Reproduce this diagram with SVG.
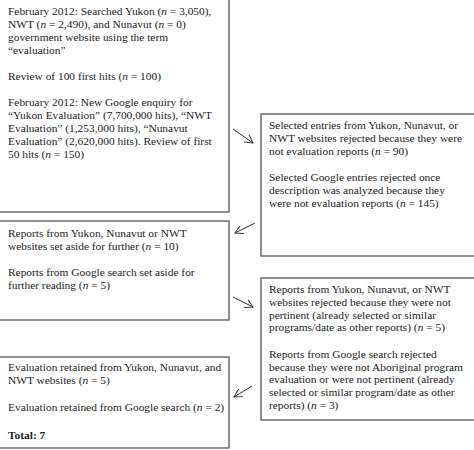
<svg xmlns="http://www.w3.org/2000/svg" width="474" height="450" viewBox="0 0 474 450">
<defs>
<style>
.box{fill:#fff;stroke:#555;stroke-width:1.3}
text{font-family:"Liberation Serif","Times New Roman",serif;font-size:11.4px;fill:#222}
.b{font-weight:bold}
.con line{stroke:#333;stroke-width:1}
</style>
<marker id="ah" viewBox="0 0 10 10" refX="9" refY="5" markerWidth="9" markerHeight="9" markerUnits="userSpaceOnUse" orient="auto">
<path d="M0,0 L9,5 L0,10" fill="none" stroke="#333" stroke-width="1.1"/>
</marker>
</defs>
<rect width="474" height="450" fill="#fff"/>
<g id="box1">
<rect class="box" x="-2" y="-2" width="231" height="214"/>
<text x="8" y="15">February 2012: Searched Yukon (<tspan font-style="italic">n</tspan> = 3,050),</text>
<text x="8" y="28">NWT (<tspan font-style="italic">n</tspan> = 2,490), and Nunavut (<tspan font-style="italic">n</tspan> = 0)</text>
<text x="8" y="41">government website using the term</text>
<text x="8" y="54">“evaluation”</text>
<text x="8" y="80">Review of 100 first hits (<tspan font-style="italic">n</tspan> = 100)</text>
<text x="8" y="106">February 2012: New Google enquiry for</text>
<text x="8" y="119">“Yukon Evaluation” (7,700,000 hits), “NWT</text>
<text x="8" y="132">Evaluation” (1,253,000 hits), “Nunavut</text>
<text x="8" y="145">Evaluation” (2,620,000 hits). Review of first</text>
<text x="8" y="158">50 hits (<tspan font-style="italic">n</tspan> = 150)</text>
</g>
<g id="box2">
<rect class="box" x="-2" y="221" width="231" height="99"/>
<text x="8" y="237">Reports from Yukon, Nunavut or NWT</text>
<text x="8" y="250">websites set aside for further (<tspan font-style="italic">n</tspan> = 10)</text>
<text x="8" y="276">Reports from Google search set aside for</text>
<text x="8" y="289">further reading (<tspan font-style="italic">n</tspan> = 5)</text>
</g>
<g id="box5">
<rect class="box" x="-2" y="357" width="231" height="91"/>
<text x="8" y="371">Evaluation retained from Yukon, Nunavut, and</text>
<text x="8" y="384">NWT websites (<tspan font-style="italic">n</tspan> = 5)</text>
<text x="8" y="411">Evaluation retained from Google search (<tspan font-style="italic">n</tspan> = 2)</text>
<text class="b" x="8" y="439">Total: 7</text>
</g>
<g id="box3">
<rect class="box" x="261" y="114" width="220" height="142"/>
<text x="269" y="129">Selected entries from Yukon, Nunavut, or</text>
<text x="269" y="142">NWT websites rejected because they were</text>
<text x="269" y="155">not evaluation reports (<tspan font-style="italic">n</tspan> = 90)</text>
<text x="269" y="181">Selected Google entries rejected once</text>
<text x="269" y="194">description was analyzed because they</text>
<text x="269" y="207">were not evaluation reports (<tspan font-style="italic">n</tspan> = 145)</text>
</g>
<g id="box4">
<rect class="box" x="261" y="278" width="220" height="142"/>
<text x="269" y="293">Reports from Yukon, Nunavut, or NWT</text>
<text x="269" y="306">websites rejected because they were not</text>
<text x="269" y="318.5">pertinent (already selected or similar</text>
<text x="269" y="331">programs/date as other reports) (<tspan font-style="italic">n</tspan> = 5)</text>
<text x="269" y="358">Reports from Google search rejected</text>
<text x="269" y="370.7">because they were not Aboriginal program</text>
<text x="269" y="383.4">evaluation or were not pertinent (already</text>
<text x="269" y="396">selected or similar program/date as other</text>
<text x="269" y="408.8">reports) (<tspan font-style="italic">n</tspan> = 3)</text>
</g>
<g id="connectors" class="con">
<line x1="233" y1="129" x2="253" y2="143" marker-end="url(#ah)"/>
<line x1="255" y1="223" x2="235" y2="233" marker-end="url(#ah)"/>
<line x1="233" y1="297" x2="253" y2="307" marker-end="url(#ah)"/>
<line x1="252" y1="386" x2="234" y2="397" marker-end="url(#ah)"/>
</g>
</svg>
